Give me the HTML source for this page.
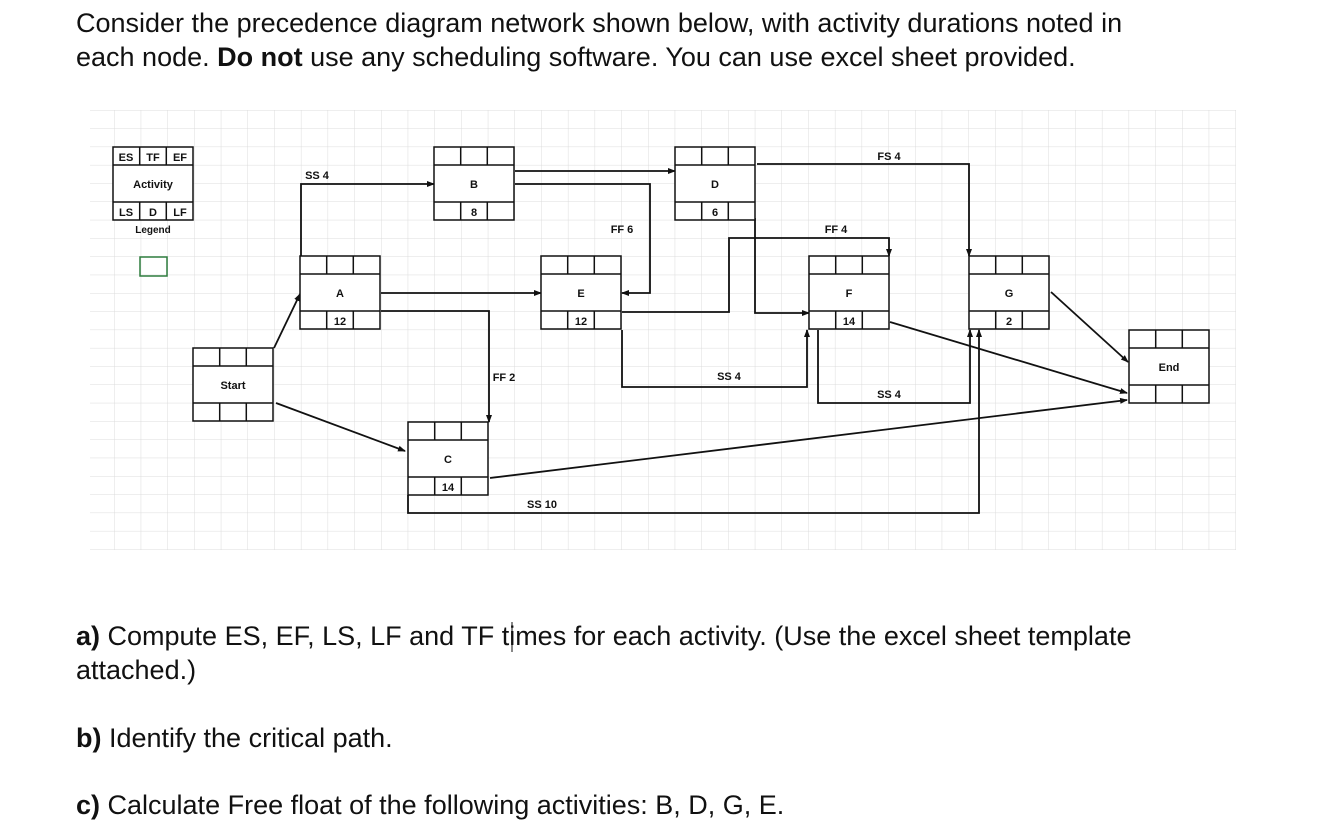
<!DOCTYPE html>
<html><head><meta charset="utf-8"><style>
html,body{margin:0;padding:0;background:#fff;}
body{width:1326px;height:832px;position:relative;overflow:hidden;font-family:"Liberation Sans",Arial,sans-serif;color:#111;}
.t{position:absolute;left:76px;font-size:27px;line-height:34px;white-space:nowrap;}
svg{position:absolute;left:0;top:0;}
</style></head><body>
<svg width="1326" height="832" viewBox="0 0 1326 832">
<defs>
<pattern id="g" x="114" y="110" width="26.7" height="18.3" patternUnits="userSpaceOnUse">
<path d="M0 0V18.3M0 0H26.7" stroke="#dcdcdc" stroke-width="1" fill="none"/>
</pattern>
<g id="n">
<rect x="0" y="0" width="80" height="73" fill="#fff" stroke="#111" stroke-width="1.5"/>
<path d="M0 18H80M0 55H80M26.7 0V18M53.3 0V18M26.7 55V73M53.3 55V73" stroke="#111" stroke-width="1.5"/>
</g>
<marker id="a" markerWidth="8" markerHeight="8" refX="7" refY="4" orient="auto" markerUnits="userSpaceOnUse">
<path d="M0 1L8 4L0 7Z" fill="#111"/>
</marker>
</defs>
<rect x="90" y="110" width="1146" height="440" fill="url(#g)"/>
<g fill="none" stroke="#111" stroke-width="1.8">
<path d="M274 348L300 294" marker-end="url(#a)"/>
<path d="M276 403L405 451" marker-end="url(#a)"/>
<path d="M301 256V184H434" marker-end="url(#a)"/>
<path d="M515 171H675" marker-end="url(#a)"/>
<path d="M515 184H650V293H622" marker-end="url(#a)"/>
<path d="M381 293H541" marker-end="url(#a)"/>
<path d="M381 311H489V422" marker-end="url(#a)"/>
<path d="M622 312H729V238H889V256" marker-end="url(#a)"/>
<path d="M755 218V313H809" marker-end="url(#a)"/>
<path d="M622 330V387H807V330" marker-end="url(#a)"/>
<path d="M818 330V403H970V330" marker-end="url(#a)"/>
<path d="M408 495V513H979V330" marker-end="url(#a)"/>
<path d="M757 164H969V256" marker-end="url(#a)"/>
<path d="M490 478L1127 400" marker-end="url(#a)"/>
<path d="M890 322L1127 393" marker-end="url(#a)"/>
<path d="M1051 292L1128 362" marker-end="url(#a)"/>
</g>
<use href="#n" x="113" y="147"/>
<use href="#n" x="434" y="147"/>
<use href="#n" x="675" y="147"/>
<use href="#n" x="300" y="256"/>
<use href="#n" x="541" y="256"/>
<use href="#n" x="809" y="256"/>
<use href="#n" x="969" y="256"/>
<use href="#n" x="193" y="348"/>
<use href="#n" x="408" y="422"/>
<use href="#n" x="1129" y="330"/>
<rect x="140" y="257" width="27" height="19" fill="none" stroke="#2e7d3e" stroke-width="1.5"/>
<g font-family="Liberation Sans,Arial,sans-serif" font-weight="bold" font-size="11" fill="#111" text-anchor="middle">
<text x="126" y="161">ES</text><text x="153" y="161">TF</text><text x="180" y="161">EF</text>
<text x="153" y="188">Activity</text>
<text x="126" y="216">LS</text><text x="153" y="216">D</text><text x="180" y="216">LF</text>
<text x="153" y="233" font-size="10">Legend</text>
<text x="474" y="188">B</text><text x="474" y="216">8</text>
<text x="715" y="188">D</text><text x="715" y="216">6</text>
<text x="340" y="297">A</text><text x="340" y="325">12</text>
<text x="581" y="297">E</text><text x="581" y="325">12</text>
<text x="849" y="297">F</text><text x="849" y="325">14</text>
<text x="1009" y="297">G</text><text x="1009" y="325">2</text>
<text x="233" y="389">Start</text>
<text x="448" y="463">C</text><text x="448" y="491">14</text>
<text x="1169" y="371">End</text>
<text x="317" y="179">SS 4</text>
<text x="622" y="233">FF 6</text>
<text x="504" y="381">FF 2</text>
<text x="836" y="233">FF 4</text>
<text x="889" y="160">FS 4</text>
<text x="729" y="380">SS 4</text>
<text x="889" y="398">SS 4</text>
<text x="542" y="508">SS 10</text>
</g>
<line x1="512" y1="622" x2="512" y2="652" stroke="#111" stroke-width="1"/>
</svg>
<div class="t" style="top:6px">Consider the precedence diagram network shown below, with activity durations noted in<br>each node. <b>Do not</b> use any scheduling software. You can use excel sheet provided.</div>
<div class="t" style="top:619px"><b>a)</b> Compute ES, EF, LS, LF and TF times for each activity. (Use the excel sheet template<br>attached.)</div>
<div class="t" style="top:721px"><b>b)</b> Identify the critical path.</div>
<div class="t" style="top:788px"><b>c)</b> Calculate Free float of the following activities: B, D, G, E.</div>
</body></html>
